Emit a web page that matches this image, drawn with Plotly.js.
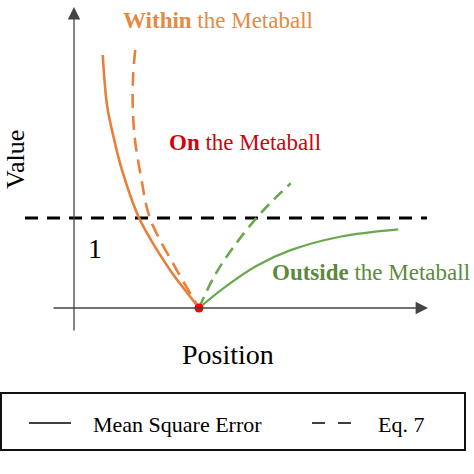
<!DOCTYPE html>
<html>
<head>
<meta charset="utf-8">
<script src="https://cdn.plot.ly/plotly-3.0.1.min.js"></script>
<style>
  html, body { margin: 0; padding: 0; background: #fff; }
  #graph { width: 474px; height: 474px; }
</style>
</head>
<body>
<div id="graph"></div>
<script>
// curves (position, value); the red dot sits at (1, 0)
const withinMseX = [0.23, 0.266, 0.322, 0.384, 0.522, 0.768, 0.888, 1.0];
const withinMseY = [2.811, 2.237, 1.867, 1.533, 0.997, 0.422, 0.2, 0.0];
const withinEqX = [0.49, 0.474, 0.47, 0.488, 0.536, 0.608, 0.822, 1.0];
const withinEqY = [2.867, 2.608, 2.237, 1.867, 1.459, 0.997, 0.422, 0.0];
const outsideMseX = [1.0, 1.194, 1.462, 1.728, 2.128, 2.594];
const outsideMseY = [0.0, 0.219, 0.47, 0.64, 0.792, 0.874];
const outsideEqX = [1.0, 1.128, 1.288, 1.462, 1.594, 1.734];
const outsideEqY = [0.0, 0.367, 0.7, 1.003, 1.2, 1.386];
const onPointX = [1.0];
const onPointY = [0.0];
const thresholdX = [-0.392, 2.824];
const thresholdY = [1, 1];
const legendNames = ["Mean Square Error", "Eq. 7"];

const ORANGE = "#E8803A";
const GREEN = "#6AA84F";
const serif = "Liberation Serif";

function render() {
  let traces = [
    {
      x: thresholdX, y: thresholdY, mode: "lines",
      line: { color: "#000", width: 3, dash: "13px,9px" },
    },
    {
      x: withinMseX, y: withinMseY, mode: "lines",
      line: { color: ORANGE, width: 2.6, shape: "spline" },
    },
    {
      x: withinEqX, y: withinEqY, mode: "lines",
      line: { color: ORANGE, width: 2.6, shape: "spline", dash: "14px,8px" },
    },
    {
      x: outsideMseX, y: outsideMseY, mode: "lines",
      line: { color: GREEN, width: 2.2, shape: "spline" },
    },
    {
      x: outsideEqX, y: outsideEqY, mode: "lines",
      line: { color: GREEN, width: 2.6, shape: "spline", dash: "12px,7px" },
    },
    {
      x: onPointX, y: onPointY, mode: "markers",
      marker: { color: "#FF0000", size: 9 },
    },
  ];

  // axis arrows
  let arrow = {
    xref: "x", yref: "y", axref: "x", ayref: "y", text: "",
    showarrow: true, arrowhead: 2, arrowsize: 1.9, arrowwidth: 1.3,
    arrowcolor: "#444", standoff: 0,
  };
  let label = {
    showarrow: false, xanchor: "center", yanchor: "middle",
  };
  let annotations = [
    Object.assign({}, arrow, { x: 0, y: 3.344, ax: 0, ay: -0.267 }),
    Object.assign({}, arrow, { x: 2.832, y: 0, ax: -0.176, ay: 0 }),
    Object.assign({}, label, {
      x: 1.152, y: 3.189, xref: "x", yref: "y",
      text: "<b>Within</b> the Metaball",
      font: { family: serif, size: 23, color: "#E58A43" },
    }),
    Object.assign({}, label, {
      x: 1.364, y: 1.844, xref: "x", yref: "y",
      text: "<b>On</b> the Metaball",
      font: { family: serif, size: 23, color: "#D40010" },
    }),
    Object.assign({}, label, {
      x: 2.376, y: 0.4, xref: "x", yref: "y",
      text: "<b>Outside</b> the Metaball",
      font: { family: serif, size: 23, color: "#5B8A3C" },
    }),
    Object.assign({}, label, {
      x: 0.168, y: 0.666, xref: "x", yref: "y",
      text: "1", font: { family: serif, size: 28, color: "#000" },
    }),
    Object.assign({}, label, {
      x: 1.232, y: -0.522, xref: "x", yref: "y",
      text: "Position", font: { family: serif, size: 28, color: "#000" },
    }),
    Object.assign({}, label, {
      x: 15 / 474, y: 1 - 160 / 474, xref: "paper", yref: "paper",
      text: "Value", textangle: -90,
      font: { family: serif, size: 26, color: "#000" },
    }),
    Object.assign({}, label, {
      x: 177.5 / 474, y: 1 - 424 / 474, xref: "paper", yref: "paper",
      text: legendNames[0], font: { family: serif, size: 22, color: "#000" },
    }),
    Object.assign({}, label, {
      x: 400.5 / 474, y: 1 - 424 / 474, xref: "paper", yref: "paper",
      text: legendNames[1], font: { family: serif, size: 22, color: "#000" },
    }),
  ];

  // hand-drawn legend box and samples
  let shapes = [
    {
      type: "rect", xref: "paper", yref: "paper",
      x0: 1 / 474, x1: 465 / 474, y0: 1 - 393 / 474, y1: 1 - 450 / 474,
      line: { color: "#111", width: 2 },
    },
    {
      type: "line", xref: "paper", yref: "paper",
      x0: 29 / 474, x1: 71 / 474, y0: 1 - 423 / 474, y1: 1 - 423 / 474,
      line: { color: "#000", width: 1.5 },
    },
    {
      type: "line", xref: "paper", yref: "paper",
      x0: 312 / 474, x1: 351 / 474, y0: 1 - 423 / 474, y1: 1 - 423 / 474,
      line: { color: "#000", width: 1.5, dash: "13px,13px" },
    },
  ];

  let layout = {
    width: 474,
    height: 474,
    margin: { l: 0, r: 0, t: 0, b: 0, pad: 0 },
    showlegend: false,
    paper_bgcolor: "#fff",
    plot_bgcolor: "#fff",
    xaxis: {
      range: [-0.592, 3.2], visible: false, fixedrange: true,
    },
    yaxis: {
      range: [-1.8444, 3.4222], visible: false, fixedrange: true,
    },
    annotations: annotations,
    shapes: shapes,
  };

  Plotly.newPlot("graph", traces, layout, { displayModeBar: false, staticPlot: true });
}

render();
</script>
</body>
</html>
